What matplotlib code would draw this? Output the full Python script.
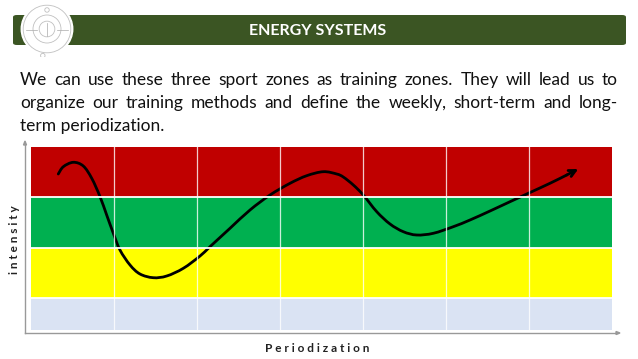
import numpy as np
import matplotlib.pyplot as plt
from matplotlib.patches import FancyBboxPatch, Circle, PathPatch
from matplotlib.path import Path
from matplotlib.lines import Line2D

#Data
title = 'ENERGY SYSTEMS'
para_lines = ['We can use these three sport zones as training zones. They will lead us to',
              'organize our training  methods and define the weekly, short-term and long-',
              'term periodization.']
x_label = 'Periodization'
y_label = 'intensity'

n_cols = 7                                   #periodization columns
zone_bounds = [0, 0.64, 1.65, 2.66, 3.66]    #bottom -> top
zone_colors = ['#dae3f3', '#ffff00', '#00b050', '#c00000']

#curve (x in columns, y in zone units)
curve_x = [0.332, 0.393, 0.513, 0.633, 0.735, 0.835, 0.915, 0.995, 1.075, 1.196,
           1.316, 1.476, 1.638, 1.838, 2.039, 2.159, 2.400, 2.641, 2.882, 3.123,
           3.324, 3.524, 3.685, 3.764, 3.885, 4.005, 4.167, 4.327, 4.487, 4.648,
           4.848, 5.089, 5.290, 5.531, 5.772, 5.992, 6.253, 6.455, 6.594]
curve_y = [3.120, 3.266, 3.354, 3.280, 3.034, 2.666, 2.300, 1.934, 1.600, 1.300,
           1.120, 1.046, 1.080, 1.234, 1.480, 1.666, 2.034, 2.400, 2.700, 2.934,
           3.086, 3.166, 3.120, 3.060, 2.900, 2.700, 2.366, 2.120, 1.966, 1.900,
           1.934, 2.066, 2.200, 2.380, 2.566, 2.734, 2.934, 3.100, 3.220]

W, H = 638, 359
fig = plt.figure(figsize=(W/100, H/100), dpi=100)
plt.rcParams['font.family'] = ['Lato', 'DejaVu Sans']

def fx(px): return px/W
def fy(py): return 1 - py/H

#Banner
fig.patches.append(FancyBboxPatch((fx(13), fy(45)), fx(613), 30/H,
                   boxstyle='round,pad=0,rounding_size=0.006', transform=fig.transFigure,
                   facecolor='#3b5523', edgecolor='none'))
fig.text(fx(318), fy(31), title, color='white', fontsize=11.5, fontweight='bold',
         ha='center', va='center')

#logo (simple rings)
lax = fig.add_axes([fx(19), fy(57), fx(56), 56/H], zorder=3)
lax.set_xlim(-1, 1); lax.set_ylim(-1, 1); lax.set_aspect('equal'); lax.axis('off')
lax.add_patch(Circle((0, 0), 0.92, color='white'))
for r in [0.85, 0.5, 0.28]:
    lax.add_patch(Circle((0, 0), r, fill=False, ec='#c0c0c0', lw=0.6))
lax.add_patch(Circle((0, 0.68), 0.08, fc='white', ec='#c0c0c0', lw=0.6))
lax.add_patch(Circle((-0.15, -0.95), 0.08, fc='white', ec='#c0c0c0', lw=0.6))
lax.plot([-0.75, -0.35], [-0.05, -0.05], color='#aaaaaa', lw=0.5)
lax.plot([0.35, 0.75], [-0.05, -0.05], color='#aaaaaa', lw=0.5)
lax.plot([0, 0], [-0.25, 0.2], color='#aaaaaa', lw=0.5)

#Paragraph, justified
fig.canvas.draw()
rend = fig.canvas.get_renderer()
left, right = 20, 618
line_y = [80, 103, 126]
fs = 12.5
for k, line in enumerate(para_lines):
    words = line.split()
    if k == len(para_lines) - 1:
        fig.text(fx(left), fy(line_y[k]), line, fontsize=fs, va='center', color='#111111')
        continue
    ts = [fig.text(0, 0, w, fontsize=fs) for w in words]
    widths = [t.get_window_extent(rend).width for t in ts]
    for t in ts: t.remove()
    gap = (right - left - sum(widths))/(len(words) - 1)
    pos = left
    for w, wd in zip(words, widths):
        fig.text(fx(pos), fy(line_y[k]), w, fontsize=fs, va='center', color='#111111')
        pos += wd + gap

#Chart
ax = fig.add_axes([fx(30.7), fy(330), fx(612-30.7), 183/H])
for i in range(4):
    ax.axhspan(zone_bounds[i], zone_bounds[i+1], color=zone_colors[i], lw=0)
for b in zone_bounds[1:-1]:
    ax.axhline(b, color='white', lw=1.3)
for c in range(1, n_cols):
    ax.axvline(c, color='white', lw=0.9, alpha=0.8)

#smooth curve through the read points (Catmull-Rom as cubic Bezier segments)
P = np.column_stack([curve_x, curve_y])[:-1]
verts = [P[0]]
codes = [Path.MOVETO]
for i in range(len(P) - 1):
    p0 = P[i-1] if i > 0 else P[i]
    p3 = P[i+2] if i + 2 < len(P) else P[i+1]
    c1 = P[i] + (P[i+1] - p0)/6
    c2 = P[i+1] - (p3 - P[i])/6
    verts += [c1, c2, P[i+1]]
    codes += [Path.CURVE4]*3
ax.add_patch(PathPatch(Path(verts, codes), fill=False, ec='black', lw=2,
                       capstyle='round', joinstyle='round'))
ax.annotate('', xy=(curve_x[-1], curve_y[-1]), xytext=(curve_x[-2], curve_y[-2]),
            arrowprops=dict(arrowstyle='->', color='black', lw=2, shrinkA=0, shrinkB=0,
                            mutation_scale=12))
ax.set_xlim(0, n_cols)
ax.set_ylim(zone_bounds[0], zone_bounds[-1])
ax.axis('off')

#axis lines with small arrows
fig.add_artist(Line2D([fx(25), fx(25)], [fy(333), fy(144)], color='#999999', lw=1))
fig.add_artist(Line2D([fx(25), fx(617)], [fy(333), fy(333)], color='#999999', lw=1))
fig.patches.append(plt.Polygon([[fx(23.5), fy(145)], [fx(26.5), fy(145)], [fx(25), fy(141)]],
                   closed=True, transform=fig.transFigure, color='#999999'))
fig.patches.append(plt.Polygon([[fx(616), fy(331.5)], [fx(616), fy(334.5)], [fx(620), fy(333)]],
                   closed=True, transform=fig.transFigure, color='#999999'))

fig.text(fx(317), fy(348), ' '.join(x_label), fontsize=8.5, fontweight='bold',
         ha='center', va='center', color='#222222')
fig.text(fx(14), fy(240), ' '.join(y_label), fontsize=8.5, fontweight='bold',
         ha='center', va='center', rotation=90, color='#222222')

fig.savefig('out.png', dpi=100)
